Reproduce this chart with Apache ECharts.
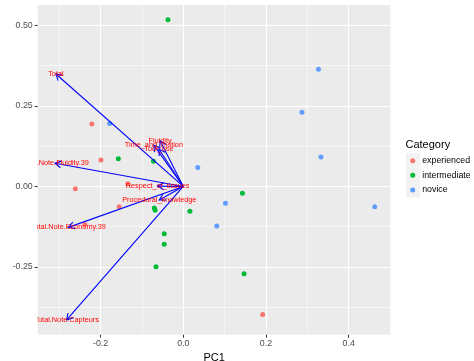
<!DOCTYPE html>
<html>
<head>
<meta charset="utf-8">
<script src="https://cdn.jsdelivr.net/npm/echarts@6/dist/echarts.min.js"></script>
<style>html,body{margin:0;padding:0;background:#fff}#c{width:474px;height:361px}</style>
</head>
<body>
<div id="c"></div>
<script>
// ---- data ----
const categories = ['experienced', 'intermediate', 'novice'];
const experiencedPC1 = [-0.221, -0.199, -0.261, -0.134, -0.155, -0.238, 0.192];
const experiencedPC2 = [0.194, 0.082, -0.007, 0.008, -0.063, -0.118, -0.397];
const intermediatePC1 = [-0.037, -0.157, -0.072, -0.070, -0.068, 0.016, -0.046, -0.046, -0.066, 0.143, 0.147];
const intermediatePC2 = [0.517, 0.086, 0.078, -0.067, -0.074, -0.077, -0.147, -0.179, -0.249, -0.021, -0.271];
const novicePC1 = [0.327, 0.287, 0.333, 0.035, -0.178, 0.102, 0.081, 0.463];
const novicePC2 = [0.364, 0.230, 0.091, 0.059, 0.195, -0.052, -0.123, -0.063];

const loadingNames = ['Total', 'Total.Note.Fluidity.39', 'Total.Note.Economy.39', 'Total.Note.Capteurs',
  'Fluidity', 'Time_and_motion', 'Tool_use', 'Respect_of_tissues', 'Procedural_knowledge'];
const loadingPC1 = [-0.308, -0.310, -0.278, -0.282, -0.056, -0.071, -0.059, -0.062, -0.058];
const loadingPC2 = [0.349, 0.072, -0.127, -0.414, 0.142, 0.128, 0.116, 0.001, -0.042];

const xMajorTicks = [-0.2, 0.0, 0.2, 0.4];
const xMinorTicks = [-0.3, -0.1, 0.1, 0.3, 0.5];
const yMajorTicks = [-0.25, 0.0, 0.25, 0.5];
const yMinorTicks = [-0.375, -0.125, 0.125, 0.375];
const xRange = [-0.352, 0.5016];
const yRange = [-0.46, 0.563];

// ---- chart ----
const colors = ['#F8766D', '#00BA38', '#619CFF'];
const pcs = [[experiencedPC1, experiencedPC2], [intermediatePC1, intermediatePC2], [novicePC1, novicePC2]];
const font = 'Liberation Sans, Arial, Helvetica, sans-serif';

const chart = echarts.init(document.getElementById('c'), null, {renderer: 'canvas'});

function majorAxis(isX) {
  const ticks = isX ? xMajorTicks : yMajorTicks;
  const range = isX ? xRange : yRange;
  return {
    type: 'value', min: range[0], max: range[1],
    position: isX ? 'bottom' : 'left',
    axisLine: {show: false, onZero: false},
    axisTick: {show: true, length: 3, customValues: ticks, lineStyle: {color: '#333333', width: 1}},
    axisLabel: {customValues: ticks, color: '#4D4D4D', fontSize: 8.8, fontFamily: font, margin: isX ? 4 : 5,
      formatter: v => v.toFixed(isX ? 1 : 2)},
    splitLine: {show: true, lineStyle: {color: '#FFFFFF', width: 1.1}},
    name: isX ? 'PC1' : 'PC2', nameLocation: 'middle', nameGap: isX ? 8 : 26,
    nameTextStyle: {color: '#000000', fontSize: 11, fontFamily: font}
  };
}
function minorAxis(isX) {
  const ticks = isX ? xMinorTicks : yMinorTicks;
  const range = isX ? xRange : yRange;
  return {
    type: 'value', min: range[0], max: range[1],
    position: isX ? 'top' : 'right',
    axisLine: {show: false, onZero: false},
    axisTick: {show: false, customValues: ticks},
    axisLabel: {show: false, customValues: ticks},
    splitLine: {show: true, lineStyle: {color: '#FFFFFF', width: 0.55}}
  };
}

const series = categories.map((c, i) => ({
  name: c, type: 'scatter', xAxisIndex: 0, yAxisIndex: 0,
  symbol: 'circle', symbolSize: 5,
  itemStyle: {color: colors[i], opacity: 1},
  data: pcs[i][0].map((x, k) => [x, pcs[i][1][k]]),
  z: 2
}));

const loadingData = loadingNames.map((n, k) => [loadingPC1[k], loadingPC2[k], n]);

series.push({
  type: 'custom', name: 'arrows', clip: true, xAxisIndex: 0, yAxisIndex: 0, z: 3,
  data: loadingData,
  renderItem: function (params, api) {
    const o = api.coord([0, 0]);
    const t = api.coord([api.value(0), api.value(1)]);
    const ang = Math.atan2(t[1] - o[1], t[0] - o[0]);
    const L = 7, a = Math.PI / 6;
    const p1 = [t[0] - L * Math.cos(ang - a), t[1] - L * Math.sin(ang - a)];
    const p2 = [t[0] - L * Math.cos(ang + a), t[1] - L * Math.sin(ang + a)];
    return {
      type: 'group',
      children: [
        {type: 'line', shape: {x1: o[0], y1: o[1], x2: t[0], y2: t[1]}, style: {stroke: '#0000FF', lineWidth: 1.1}},
        {type: 'polyline', shape: {points: [p1, t, p2]}, style: {stroke: '#0000FF', lineWidth: 1.1, fill: null}}
      ]
    };
  }
});
series.push({
  type: 'custom', name: 'labels', clip: true, xAxisIndex: 0, yAxisIndex: 0, z: 4,
  data: loadingData,
  renderItem: function (params, api) {
    const t = api.coord([api.value(0), api.value(1)]);
    return {
      type: 'text', x: t[0], y: t[1],
      style: {text: loadingNames[params.dataIndex], fill: '#FF0000', fontSize: 7.3, fontFamily: font,
        align: 'center', verticalAlign: 'middle'}
    };
  }
});

chart.setOption({
  animation: false,
  textStyle: {fontFamily: font},
  grid: {left: 37.7, right: 83.3, top: 5, bottom: 26.3, show: true, backgroundColor: '#EBEBEB', borderWidth: 0,
    containLabel: false, outerBoundsMode: 'none'},
  xAxis: [majorAxis(true), minorAxis(true)],
  yAxis: [majorAxis(false), minorAxis(false)],
  title: [{text: 'Category', left: 405.5, top: 139.5, padding: 0,
    textStyle: {fontSize: 11, fontWeight: 'normal', color: '#000000', fontFamily: font}}],
  graphic: [{type: 'rect', left: 406, top: 153.3, z: 1,
    shape: {width: 14.4, height: 44}, style: {fill: '#F2F2F2'}}],
  legend: {
    orient: 'vertical', left: 410.2, top: 153.3, padding: 0, itemGap: 0,
    itemWidth: 5, itemHeight: 5, icon: 'circle', selectedMode: false,
    data: categories,
    textStyle: {fontSize: 8.8, color: '#000000', fontFamily: font, lineHeight: 14.67, padding: [0, 0, 0, 2]}
  },
  series: series
});
</script>
</body>
</html>
